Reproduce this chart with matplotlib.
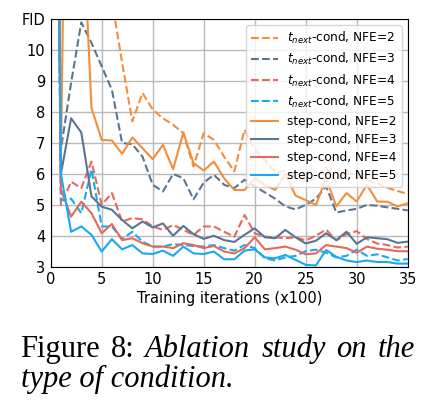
import matplotlib
matplotlib.use("Agg")
import matplotlib.pyplot as plt
import numpy as np


# Training iterations (x100)
steps = np.arange(0, 36)

# FID curves, t_next conditioned
tnext_nfe2 = [40, 30, 24, 20, 16, 13.5, 11.6, 9.6, 7.7, 8.62, 8.08, 7.8, 7.59, 7.32, 6.24, 7.32, 7.1, 6.56,
              6.08, 7.43, 6.8, 6.45, 6.05, 6.1, 5.9, 5.75, 5.85, 6.2, 5.75, 6.1, 5.9, 5.8, 5.7, 5.55, 5.45, 5.35]
tnext_nfe3 = [40, 6.8, 8.95, 10.9, 10.24, 9.48, 8.72, 7.0, 6.96, 6.56, 5.65, 5.43, 6.0, 5.86, 5.18, 5.72, 5.97, 5.65,
              5.54, 5.81, 5.6, 5.4, 5.2, 4.95, 4.85, 5.0, 5.2, 5.6, 4.75, 4.82, 4.87, 5.0, 4.97, 4.92, 4.87, 4.82]
tnext_nfe4 = [40, 5.0, 5.75, 5.54, 6.4, 5.0, 5.38, 4.46, 4.57, 4.53, 4.3, 4.19, 4.35, 4.19, 4.03, 4.3, 4.3, 4.13,
              3.97, 4.67, 4.08, 3.97, 3.95, 3.92, 3.95, 3.85, 4.0, 4.2, 3.85, 4.05, 4.15, 3.9, 3.75, 3.7, 3.62, 3.65]
tnext_nfe5 = [40, 5.16, 5.2, 4.73, 6.15, 4.3, 4.3, 3.89, 4.13, 3.81, 3.65, 3.65, 3.73, 3.7, 3.67, 3.65, 3.7, 3.6,
              3.52, 3.7, 3.6, 3.27, 3.2, 3.3, 3.35, 3.5, 3.55, 3.45, 3.3, 3.35, 3.55, 3.35, 3.4, 3.3, 3.2, 3.25]

# FID curves, step conditioned
step_nfe2 = [40, 6.5, 30, 15.3, 8.13, 7.1, 7.08, 6.65, 7.18, 6.83, 6.48, 6.94, 6.15, 7.34, 6.35, 6.11, 6.4, 5.86,
             5.48, 5.48, 5.86, 5.65, 5.48, 6.0, 5.3, 5.15, 5.0, 5.86, 4.95, 5.38, 5.11, 5.65, 5.11, 5.1, 4.95, 5.05]
step_nfe3 = [40, 6.0, 7.8, 7.34, 5.27, 4.94, 4.84, 4.51, 4.24, 4.46, 4.27, 4.4, 4.0, 4.32, 4.05, 3.9, 4.0, 3.86,
             3.8, 4.03, 4.24, 3.95, 3.92, 4.19, 3.95, 3.75, 3.84, 4.08, 3.86, 4.13, 3.74, 3.95, 3.92, 3.89, 3.77, 3.81]
step_nfe4 = [40, 5.5, 4.62, 5.1, 4.73, 4.08, 4.38, 3.86, 3.92, 3.76, 3.65, 3.65, 3.6, 3.76, 3.7, 3.6, 3.67, 3.49,
             3.43, 3.6, 3.95, 3.56, 3.6, 3.65, 3.55, 3.4, 3.43, 3.7, 3.65, 3.6, 3.45, 3.65, 3.58, 3.55, 3.5, 3.5]
step_nfe5 = [40, 6.0, 4.13, 4.3, 4.03, 3.49, 3.89, 3.56, 3.7, 3.43, 3.41, 3.52, 3.35, 3.65, 3.43, 3.41, 3.49, 3.24,
             3.24, 3.52, 3.56, 3.3, 3.27, 3.38, 3.22, 3.06, 3.04, 3.54, 3.32, 3.2, 3.15, 3.2, 3.15, 3.15, 3.1, 3.1]

nfe_values = [2, 3, 4, 5]
colors = ['#f28e3c', '#587694', '#e8675b', '#19a9ef']

y_ticks = list(range(3, 12))
y_tick_labels = [str(t) for t in range(3, 11)] + ['FID']

# caption words: (text, italic)
caption_line1 = [('Figure', False), ('8:', False), ('Ablation', True), ('study', True), ('on', True), ('the', True)]
caption_line2 = 'type of condition.'


fig = plt.figure(figsize=(4.44, 4.12), dpi=100)
ax = fig.add_axes([0.1142, 0.3527, 0.8041, 0.6004])

tnext_curves = [tnext_nfe2, tnext_nfe3, tnext_nfe4, tnext_nfe5]
step_curves = [step_nfe2, step_nfe3, step_nfe4, step_nfe5]

for nfe, vals, c in zip(nfe_values, tnext_curves, colors):
    ax.plot(steps, vals, '--', color=c, lw=1.5, label=r'$t_{next}$-cond, NFE=%d' % nfe)
for nfe, vals, c in zip(nfe_values, step_curves, colors):
    ax.plot(steps, vals, '-', color=c, lw=1.5, label='step-cond, NFE=%d' % nfe)

ax.set_xlim(0, 35)
ax.set_ylim(3, 11)
ax.set_yticks(y_ticks)
ax.set_yticklabels(y_tick_labels)
ax.set_xticks(range(0, 36, 5))
ax.tick_params(length=0, pad=4, labelsize=10.5)
ax.grid(True, color='#b8b8b8', lw=1)
ax.set_axisbelow(True)
ax.set_xlabel('Training iterations (x100)', fontsize=10.5, labelpad=3)

ax.legend(loc='upper right', fontsize=8.7, handlelength=2.2, labelspacing=0.42,
          framealpha=0.8, edgecolor='#cccccc')

# caption below the chart, first line justified like LaTeX
cap_font = dict(family='Liberation Serif', fontsize=22, va='baseline')
renderer = fig.canvas.get_renderer()
x_left, x_right = 20 / 444, 415 / 444
texts = []
for word, italic in caption_line1:
    t = fig.text(0, 0.134, word, style='italic' if italic else 'normal', **cap_font)
    texts.append(t)
widths = [t.get_window_extent(renderer).width / fig.bbox.width for t in texts]
gap = (x_right - x_left - sum(widths)) / (len(texts) - 1)
x = x_left
for t, w in zip(texts, widths):
    t.set_x(x)
    x += w + gap
fig.text(21 / 444, 0.0607, caption_line2, style='italic', **cap_font)

fig.savefig('out.png', dpi=100)
